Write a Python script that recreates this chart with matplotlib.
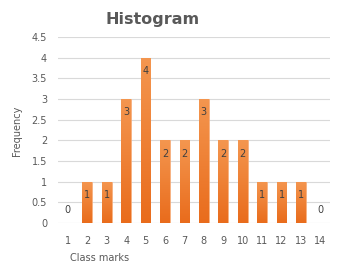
import matplotlib.pyplot as plt
import numpy as np
from matplotlib.colors import LinearSegmentedColormap

class_marks = list(range(1, 15))
frequency = [0, 1, 1, 3, 4, 2, 2, 3, 2, 2, 1, 1, 1, 0]
y_ticks = [0, 0.5, 1, 1.5, 2, 2.5, 3, 3.5, 4, 4.5]
y_labels = ['0', '0.5', '1', '1.5', '2', '2.5', '3', '3.5', '4', '4.5']

grey = '#595959'
fig = plt.figure(figsize=(3.4, 2.72), dpi=100)
ax = fig.add_axes([0.171, 0.180, 0.80, 0.684])

x = np.arange(len(class_marks))
bars = ax.bar(x, frequency, width=0.5, color='#F07A2A', edgecolor='#F7B07E', linewidth=0.5, zorder=3)

# vertical gradient fill inside each bar
cmap = LinearSegmentedColormap.from_list('og', ['#E96C1C', '#F4964F'])
grad = np.linspace(0, 1, 64).reshape(-1, 1)
for b in bars:
    h = b.get_height()
    if h <= 0:
        continue
    im = ax.imshow(grad, cmap=cmap, aspect='auto', origin='lower',
                   extent=[b.get_x(), b.get_x() + b.get_width(), 0, h], zorder=3.5)
    im.set_clip_path(b)

for xi, v in zip(x, frequency):
    ypos = v - 0.32 if v > 0 else 0.32
    ax.text(xi, ypos, str(v), ha='center', va='center', fontsize=7, color='#404040', zorder=5)

ax.set_xlim(-0.5, len(class_marks) - 0.5)
ax.set_ylim(0, 4.5)
ax.set_yticks(y_ticks)
ax.set_yticklabels(y_labels)
ax.set_xticks(x)
ax.set_xticklabels([str(c) for c in class_marks])
ax.tick_params(length=0, labelsize=7, colors=grey)
ax.tick_params(axis='x', pad=9)
ax.tick_params(axis='y', pad=8)
ax.grid(axis='y', color='#D9D9D9', linewidth=0.8, zorder=0)
for s in ax.spines.values():
    s.set_visible(False)

fig.text(0.45, 0.93, 'Histogram', ha='center', va='center', fontsize=11.5, fontweight='bold', color=grey)
fig.text(0.05, 0.52, 'Frequency', rotation=90, ha='center', va='center', fontsize=7, color=grey)
fig.text(0.205, 0.05, 'Class marks', ha='left', va='center', fontsize=7, color=grey)

fig.savefig('out.png', dpi=100)
